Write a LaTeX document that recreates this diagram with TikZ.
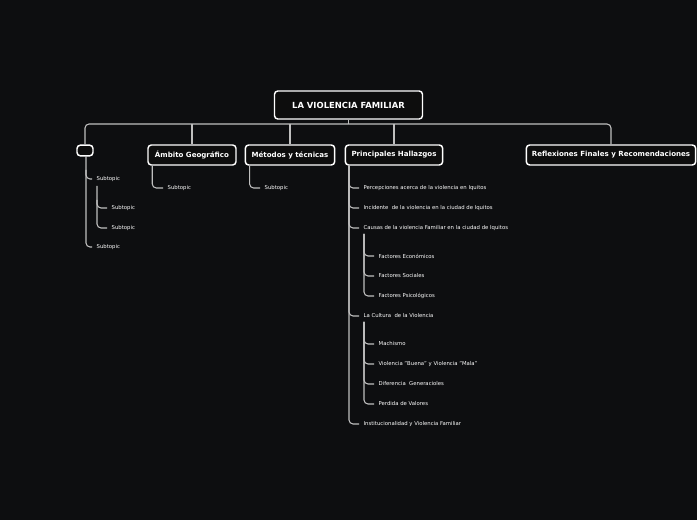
\documentclass[tikz,border=0pt]{standalone}
\usepackage{fontspec}
\setmainfont{DejaVu Sans}
\begin{document}
\begin{tikzpicture}[x=0.75pt,y=-0.75pt,
  ln/.style={draw=white!75!black,line width=0.8pt,rounded corners=3pt},
  topic/.style={draw=white,line width=1.1pt,rounded corners=2.5pt,fill=black!95,text=white,font=\bfseries\fontsize{5.3}{7}\selectfont,inner sep=0pt,minimum height=15pt},
  sub/.style={text=white,font=\fontsize{4}{5}\selectfont,anchor=west,inner sep=0pt,outer xsep=3.5pt}]
\useasboundingbox (0,0) rectangle (697,520);
\fill[fill={rgb,255:red,13;green,14;blue,16}] (0,0) rectangle (697,520);
\node[topic,minimum width=111pt,minimum height=21pt,font=\bfseries\fontsize{6.3}{8}\selectfont] (root) at (348.5,105) {LA VIOLENCIA FAMILIAR};
\node[topic,minimum width=12pt,minimum height=8pt] (t0) at (85,150.5) {};
\node[topic,minimum width=66pt] (t1) at (192,155) {Ámbito Geográfico};
\node[topic,minimum width=67pt] (t2) at (290,155) {Métodos y técnicas};
\node[topic,minimum width=73pt] (t3) at (394,155) {Principales Hallazgos};
\node[topic,minimum width=127pt] (t4) at (611,155) {Reflexiones Finales y Recomendaciones};
\draw[ln] (root.south) -- (348.5,124);
\draw[ln] (t0.north) |- (611,124) -- (t4.north);
\foreach \t/\x in {t1/192,t2/290,t3/394} \draw[ln] (\t.north) -- (\x,124);
% left
\node[sub] (la) at (92,179) {Subtopic};
\node[sub] (lb) at (92,247) {Subtopic};
\node[sub] (lc) at (107,208) {Subtopic};
\node[sub] (ld) at (107,228) {Subtopic};
\draw[ln] (86,156) |- (la.west); \draw[ln] (86,170) |- (lb.west);
\draw[ln] (97,186) |- (lc.west); \draw[ln] (97,200) |- (ld.west);
\node[sub] (s1) at (163,188) {Subtopic};
\draw[ln] (t1.south west)++(5,0) |- (s1.west);
\node[sub] (s2) at (260,188) {Subtopic};
\draw[ln] (t2.south west)++(5,0) |- (s2.west);
% principales
\foreach \n/\y/\s in {p1/188/Percepciones acerca de la violencia en Iquitos,
 p2/208/Incidente\ \ de la violencia en la ciudad de Iquitos,
 p3/228/Causas de la violencia Familiar en la ciudad de Iquitos,
 p4/316/La Cultura\ \ de la Violencia,
 p5/424/Institucionalidad y Violencia Familiar}
 {\node[sub] (\n) at (359,\y) {\s}; \draw[ln] (349,165) |- (\n.west);}
\foreach \n/\y/\s in {q1/256/Factores Económicos,q2/276/Factores Sociales,q3/296/Factores Psicológicos}
 {\node[sub] (\n) at (374,\y) {\s}; \draw[ln] (364,234) |- (\n.west);}
\foreach \n/\y/\s in {r1/344/Machismo,r2/364/Violencia "Buena" y Violencia "Mala",r3/384/Diferencia\ \ Generacioles,r4/404/Perdida de Valores}
 {\node[sub] (\n) at (374,\y) {\s}; \draw[ln] (364,322) |- (\n.west);}
\end{tikzpicture}
\end{document}
